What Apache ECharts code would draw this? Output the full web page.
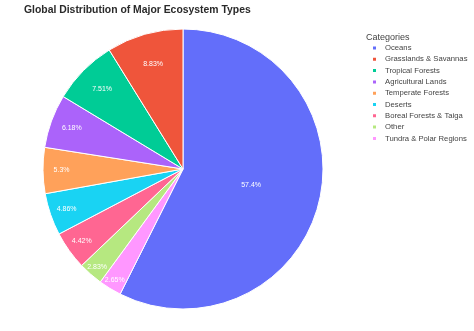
<!DOCTYPE html>
<html>
<head>
<meta charset="utf-8">
<script src="https://cdn.jsdelivr.net/npm/echarts@6/dist/echarts.min.js"></script>
<style>
  html, body { margin: 0; padding: 0; background: #fff; }
  #chart { width: 474px; height: 331px; }
</style>
</head>
<body>
<div id="chart"></div>
<script>
// Slices in drawing order (clockwise from 12 o'clock)
const categories = [
  'Oceans', 'Tundra & Polar Regions', 'Other', 'Boreal Forests & Taiga',
  'Deserts', 'Temperate Forests', 'Agricultural Lands', 'Tropical Forests',
  'Grasslands & Savannas'
];
const shares = [57.4, 2.65, 2.83, 4.42, 4.86, 5.3, 6.18, 7.51, 8.83];
const colors = [
  '#636EFA', '#FF97FF', '#B6E880', '#FF6692',
  '#19D3F3', '#FFA15A', '#AB63FA', '#00CC96', '#EF553B'
];
// Legend lists the categories from largest to smallest
const legendOrder = [
  'Oceans', 'Grasslands & Savannas', 'Tropical Forests', 'Agricultural Lands',
  'Temperate Forests', 'Deserts', 'Boreal Forests & Taiga', 'Other',
  'Tundra & Polar Regions'
];

const CX = 183, CY = 169, R = 140;
const total = shares.reduce((a, b) => a + b, 0);

// Inside labels: big slices centred at half radius, thin slices pushed outwards
function labelPos(i) {
  let before = 0;
  for (let k = 0; k < i; k++) before += shares[k];
  const frac = (before + shares[i] / 2) / total;
  const theta = (90 - 360 * frac) * Math.PI / 180;
  const f = Math.max(0.5, 1 - 2.5 * shares[i] / total);
  return { x: CX + f * R * Math.cos(theta), y: CY - f * R * Math.sin(theta) };
}

const FONT = 'Liberation Sans, Arial, sans-serif';
const chart = echarts.init(document.getElementById('chart'), null, { renderer: 'canvas' });
chart.setOption({
  animation: false,
  color: colors,
  title: [
    {
      text: 'Global Distribution of Major Ecosystem Types',
      left: 19, top: 0,
      textStyle: { fontFamily: FONT, fontSize: 10.4, fontWeight: 'bold', color: '#2a2a2a' }
    },
    {
      text: 'Categories',
      left: 361, top: 28.5,
      textStyle: { fontFamily: FONT, fontSize: 9, fontWeight: 'normal', color: '#444' }
    }
  ],
  legend: {
    orient: 'vertical',
    left: 366, top: 38,
    data: legendOrder,
    icon: 'rect',
    itemWidth: 5, itemHeight: 5,
    itemGap: 1.3,
    textStyle: { fontFamily: FONT, fontSize: 7.7, lineHeight: 10, color: '#444', padding: [0, 0, 0, 3] }
  },
  series: [{
    type: 'pie',
    center: [CX, CY],
    radius: [0, R],
    startAngle: 90,
    clockwise: true,
    avoidLabelOverlap: false,
    itemStyle: { borderColor: '#fff', borderWidth: 1 },
    label: {
      show: true,
      position: 'inside',
      formatter: p => p.value + '%',
      color: '#fff',
      fontFamily: FONT,
      fontSize: 7
    },
    labelLine: { show: false },
    labelLayout: p => {
      const pos = labelPos(p.dataIndex);
      return { x: pos.x, y: pos.y, align: 'center', verticalAlign: 'middle' };
    },
    emphasis: { scale: false },
    data: categories.map((name, i) => ({ name, value: shares[i] }))
  }]
});
</script>
</body>
</html>
